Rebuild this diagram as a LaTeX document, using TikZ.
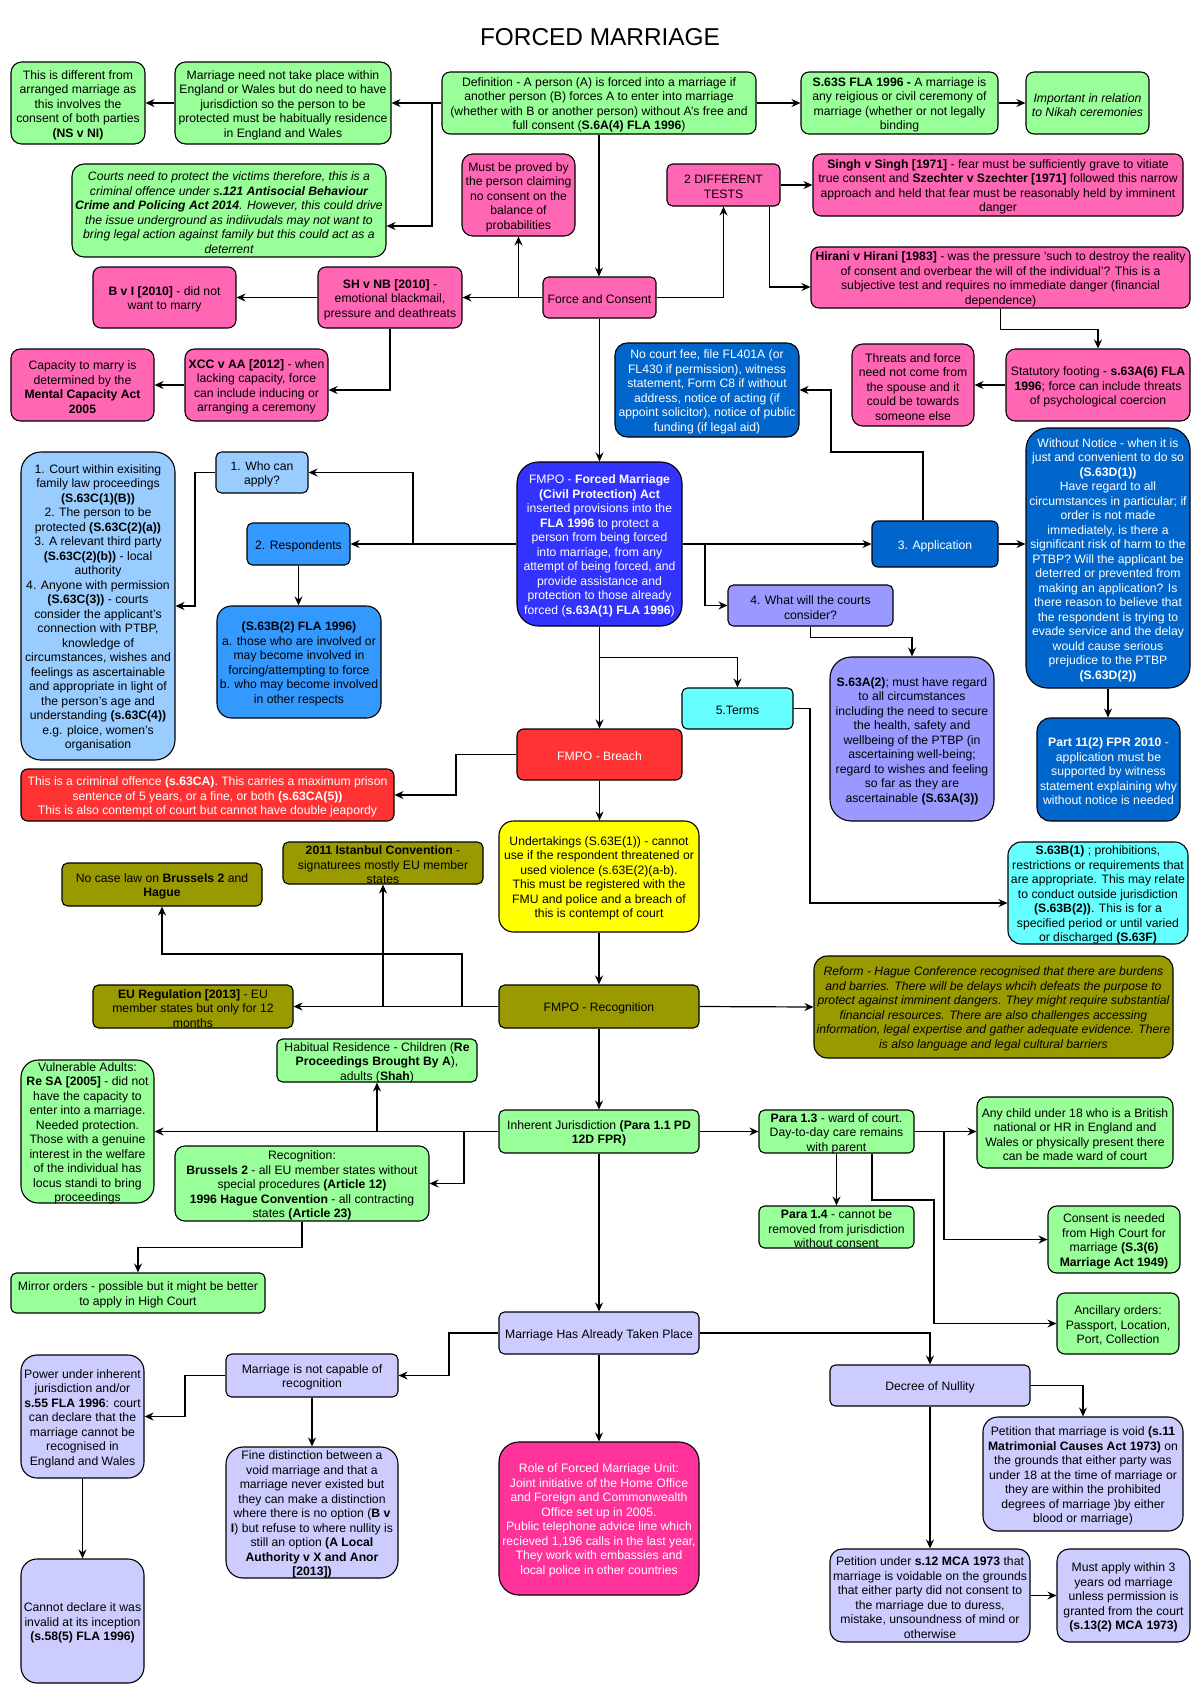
\documentclass[tikz,border=0pt]{standalone}
\usepackage{fontspec}
\setmainfont{Liberation Sans}
\usetikzlibrary{arrows.meta}
\definecolor{cgreen}{HTML}{99FF99}
\definecolor{cpink}{HTML}{FF66B3}
\definecolor{cblue}{HTML}{0066CC}
\definecolor{clblue}{HTML}{99CCFF}
\definecolor{cmblue}{HTML}{3399FF}
\definecolor{croyal}{HTML}{3333FF}
\definecolor{cviolet}{HTML}{9999FF}
\definecolor{ccyan}{HTML}{66FFFF}
\definecolor{cred}{HTML}{FF3333}
\definecolor{cyellow}{HTML}{FFFF00}
\definecolor{colive}{HTML}{999900}
\definecolor{clav}{HTML}{CCCCFF}
\definecolor{cmag}{HTML}{FF3399}
\newcommand\mkbox[7]{%
  \pgfmathsetmacro\mkw{#4-#2}%
  \pgfmathsetmacro\mkh{#5-#3}%
  \pgfmathsetmacro\mkr{0.13*min(\mkw,\mkh)}%
  \node[box,#6,minimum width=\mkw pt,minimum height=\mkh pt,rounded corners=\mkr pt] (#1) at ({(#2+#4)/2},{(#3+#5)/2}) {};%
  \node[box,#6,draw=none,fill=none] (#1t) at ([yshift=-2pt]#1.center) {#7};%
}
\tikzset{
  box/.style={draw=black,line width=1.1pt,align=center,inner sep=1pt,font=\fontsize{12.2}{14.5}\selectfont},
  green/.style={fill=cgreen},
  pink/.style={fill=cpink},
  dblue/.style={fill=cblue,text=white},
  lblue/.style={fill=clblue},
  mblue/.style={fill=cmblue},
  royal/.style={fill=croyal,text=white},
  violet/.style={fill=cviolet},
  cyanbox/.style={fill=ccyan},
  redbox/.style={fill=cred,text=white},
  yellowbox/.style={fill=cyellow},
  olive/.style={fill=colive},
  lav/.style={fill=clav},
  magbox/.style={fill=cmag,text=white},
  ital/.style={font=\fontsize{12.2}{14.5}\selectfont\itshape},
  arr/.style={-{Stealth[length=9pt,width=8pt,inset=3pt]},line width=1.2pt},
}
\begin{document}
\begin{tikzpicture}[x=1pt,y=-1pt]
\useasboundingbox (0,0) rectangle (1200,1698);
\fill[white] (0,0) rectangle (1200,1698);
\node[font=\fontsize{24.4}{28}\selectfont] (title) at (600,37) {FORCED MARRIAGE};

\mkbox{diff}{11}{62}{145}{144}{green}{This is different from\\arranged marriage as\\this involves the\\consent of both parties\\\textbf{(NS v NI)}}
\mkbox{need}{175}{62}{391}{144}{green}{Marriage need not take place within\\England or Wales but do need to have\\jurisdiction so the person to be\\protected must be habitually residence\\in England and Wales}
\mkbox{def}{442}{72}{756}{134}{green}{Definition - A person (A) is forced into a marriage if\\another person (B) forces A to enter into marriage\\(whether with B or another person) without A's free and\\full consent (\textbf{S.6A(4) FLA 1996})}
\mkbox{s63s}{801}{72}{998}{134}{green}{\textbf{S.63S FLA 1996 -} A marriage is\\any reigious or civil ceremony of\\marriage (whether or not legally\\binding}
\mkbox{nikah}{1026}{72}{1149}{134}{green,ital}{Important in relation\\to Nikah ceremonies}
\mkbox{courts}{72}{164}{386}{257}{green,ital}{Courts need to protect the victims therefore, this is a\\criminal offence under s\textbf{.121 Antisocial Behaviour}\\\textbf{Crime and Policing Act 2014}. However, this could drive\\the issue underground as indiivudals may not want to\\bring legal action against family but this could act as a\\deterrent}
\mkbox{proved}{462}{154}{575}{236}{pink}{Must be proved by\\the person claiming\\no consent on the\\balance of\\probabilities}
\mkbox{tests}{667}{164}{780}{206}{pink}{2 DIFFERENT\\TESTS}
\mkbox{singh}{813}{154}{1183}{216}{pink}{\textbf{Singh v Singh [1971]} - fear must be sufficiently grave to vitiate\\true consent and \textbf{Szechter v Szechter [1971]} followed this narrow\\approach and held that fear must be reasonably held by imminent\\danger}
\mkbox{hirani}{811}{247}{1190}{308}{pink}{\textbf{Hirani v Hirani [1983]} - was the pressure 'such to destroy the reality\\of consent and overbear the will of the individual'? This is a\\subjective test and requires no immediate danger (financial\\dependence)}
\mkbox{bvi}{93}{267}{236}{328}{pink}{\textbf{B v I [2010]} - did not\\want to marry}
\mkbox{shnb}{318}{267}{462}{328}{pink}{\textbf{SH v NB [2010]} -\\emotional blackmail,\\pressure and deathreats}
\mkbox{force}{543}{277}{656}{318}{pink}{Force and Consent}
\mkbox{cap}{11}{349}{154}{421}{pink}{Capacity to marry is\\determined by the\\\textbf{Mental Capacity Act}\\\textbf{2005}}
\mkbox{xcc}{185}{349}{328}{421}{pink}{\textbf{XCC v AA [2012]} - when\\lacking capacity, force\\can include inducing or\\arranging a ceremony}
\mkbox{fee}{615}{343}{799}{437}{dblue}{No court fee, file FL401A (or\\FL430 if permission), witness\\statement, Form C8 if without\\address, notice of acting (if\\appoint solicitor), notice of public\\funding (if legal aid)}
\mkbox{threats}{852}{344}{974}{426}{pink}{Threats and force\\need not come from\\the spouse and it\\could be towards\\someone else}
\mkbox{stat}{1006}{349}{1190}{421}{pink}{Statutory footing - \textbf{s.63A(6) FLA}\\\textbf{1996}; force can include threats\\of psychological coercion}
\mkbox{who}{216}{452}{308}{493}{lblue}{1. Who can\\apply?}
\mkbox{applist}{21}{452}{175}{760}{lblue}{1. Court within exisiting\\family law proceedings\\\textbf{(S.63C(1)(B))}\\2. The person to be\\protected \textbf{(S.63C(2)(a))}\\3. A relevant third party\\\textbf{(S.63C(2)(b))} - local\\authority\\4. Anyone with permission\\\textbf{(S.63C(3))} - courts\\consider the applicant's\\connection with PTBP,\\knowledge of\\circumstances, wishes and\\feelings as ascertainable\\and appropriate in light of\\the person's age and\\understanding \textbf{(s.63C(4))}\\e.g. ploice, women's\\organisation}
\mkbox{resp}{247}{523}{350}{565}{mblue}{2. Respondents}
\mkbox{sbtwo}{217}{606}{381}{718}{mblue}{\textbf{(S.63B(2) FLA 1996)}\\a. those who are involved or\\may become involved in\\forcing/attempting to force\\b. who may become involved\\in other respects}
\mkbox{fmpo}{517}{462}{682}{626}{royal}{FMPO - \textbf{Forced Marriage}\\\textbf{(Civil Protection) Act}\\inserted provisions into the\\\textbf{FLA 1996} to protect a\\person from being forced\\into marriage, from any\\attempt of being forced, and\\provide assistance and\\protection to those already\\forced (\textbf{s.63A(1) FLA 1996})}
\mkbox{app}{872}{521}{998}{567}{dblue}{3. Application}
\mkbox{wn}{1026}{428}{1190}{688}{dblue}{Without Notice - when it is\\just and convenient to do so\\\textbf{(S.63D(1))}\\Have regard to all\\circumstances in particular; if\\order is not made\\immediately, is there a\\significant risk of harm to the\\PTBP? Will the applicant be\\deterred or prevented from\\making an application? Is\\there reason to believe that\\the respondent is trying to\\evade service and the delay\\would cause serious\\prejudice to the PTBP\\\textbf{(S.63D(2))}}
\mkbox{what}{728}{585}{893}{626}{violet}{4. What will the courts\\consider?}
\mkbox{satwo}{830}{657}{994}{821}{violet}{\textbf{S.63A(2)}; must have regard\\to all circumstances\\including the need to secure\\the health, safety and\\wellbeing of the PTBP (in\\ascertaining well-being;\\regard to wishes and feeling\\so far as they are\\ascertainable \textbf{(S.63A(3))}}
\mkbox{part}{1037}{718}{1180}{821}{dblue}{\textbf{Part 11(2) FPR 2010} -\\application must be\\supported by witness\\statement explaining why\\without notice is needed}
\mkbox{terms}{682}{688}{793}{729}{cyanbox}{5.Terms}
\mkbox{breach}{517}{729}{682}{780}{redbox}{FMPO - Breach}
\mkbox{crim}{21}{769}{394}{821}{redbox}{This is a criminal offence \textbf{(s.63CA)}. This carries a maximum prison\\sentence of 5 years, or a fine, or both \textbf{(s.63CA(5))}\\This is also contempt of court but cannot have double jeapordy}
\mkbox{undert}{499}{821}{699}{932}{yellowbox}{Undertakings (S.63E(1)) - cannot\\use if the respondent threatened or\\used violence (s.63E(2)(a-b).\\This must be registered with the\\FMU and police and a breach of\\this is contempt of court}
\mkbox{sbone}{1008}{842}{1188}{944}{cyanbox}{\textbf{S.63B(1)} ; prohibitions,\\restrictions or requirements that\\are appropriate. This may relate\\to conduct outside jurisdiction\\\textbf{(S.63B(2))}. This is for a\\specified period or until varied\\or discharged \textbf{(S.63F)}}
\mkbox{ist}{283}{842}{483}{884}{olive}{\textbf{2011 Istanbul Convention} -\\signaturees mostly EU member\\states}
\mkbox{nocase}{62}{863}{262}{906}{olive}{No case law on \textbf{Brussels 2} and\\\textbf{Hague}}
\mkbox{eureg}{93}{985}{293}{1028}{olive}{\textbf{EU Regulation [2013]} - EU\\member states but only for 12\\months}
\mkbox{recog}{499}{985}{699}{1028}{olive}{FMPO - Recognition}
\mkbox{reform}{814}{956}{1173}{1058}{olive,ital}{Reform - Hague Conference recognised that there are burdens\\and barries. There will be delays whcih defeats the purpose to\\protect against imminent dangers. They might require substantial\\financial resources. There are also challenges accessing\\information, legal expertise and gather adequate evidence. There\\is also language and legal cultural barriers}
\mkbox{habit}{277}{1039}{477}{1082}{green}{Habitual Residence - Children (\textbf{Re}\\\textbf{Proceedings Brought By A}),\\adults (\textbf{Shah})}
\mkbox{vuln}{21}{1060}{154}{1203}{green}{Vulnerable Adults:\\\textbf{Re SA [2005]} - did not\\have the capacity to\\enter into a marriage.\\Needed protection.\\Those with a genuine\\interest in the welfare\\of the individual has\\locus standi to bring\\proceedings}
\mkbox{inh}{499}{1110}{699}{1153}{green}{Inherent Jurisdiction \textbf{(Para 1.1 PD}\\\textbf{12D FPR)}}
\mkbox{brus}{175}{1146}{429}{1221}{green}{Recognition:\\\textbf{Brussels 2} - all EU member states without\\special procedures \textbf{(Article 12)}\\\textbf{1996 Hague Convention} - all contracting\\states \textbf{(Article 23)}}
\mkbox{pthree}{759}{1110}{914}{1153}{green}{\textbf{Para 1.3} - ward of court.\\Day-to-day care remains\\with parent}
\mkbox{child}{977}{1097}{1173}{1168}{green}{Any child under 18 who is a British\\national or HR in England and\\Wales or physically present there\\can be made ward of court}
\mkbox{pfour}{759}{1206}{914}{1248}{green}{\textbf{Para 1.4} - cannot be\\removed from jurisdiction\\without consent}
\mkbox{cons}{1048}{1206}{1180}{1273}{green}{Consent is needed\\from High Court for\\marriage \textbf{(S.3(6)}\\\textbf{Marriage Act 1949)}}
\mkbox{mirror}{11}{1273}{265}{1313}{green}{Mirror orders - possible but it might be better\\to apply in High Court}
\mkbox{ancil}{1057}{1293}{1179}{1354}{green}{Ancillary orders:\\Passport, Location,\\Port, Collection}
\mkbox{already}{499}{1312}{699}{1354}{lav}{Marriage Has Already Taken Place}
\mkbox{notcap}{226}{1354}{398}{1397}{lav}{Marriage is not capable of\\recognition}
\mkbox{power}{21}{1355}{144}{1478}{lav}{Power under inherent\\jurisdiction and/or\\\textbf{s.55 FLA 1996}: court\\can declare that the\\marriage cannot be\\recognised in\\England and Wales}
\mkbox{fine}{226}{1447}{398}{1578}{lav}{Fine distinction between a\\void marriage and that a\\marriage never existed but\\they can make a distinction\\where there is no option (\textbf{B v}\\\textbf{I}) but refuse to where nullity is\\still an option \textbf{(A Local}\\\textbf{Authority v X and Anor}\\\textbf{[2013])}}
\mkbox{decree}{830}{1365}{1030}{1406}{lav}{Decree of Nullity}
\mkbox{void}{983}{1417}{1183}{1531}{lav}{Petition that marriage is void \textbf{(s.11}\\\textbf{Matrimonial Causes Act 1973)} on\\the grounds that either party was\\under 18 at the time of marriage or\\they are within the prohibited\\degrees of marriage )by either\\blood or marriage)}
\mkbox{role}{499}{1442}{699}{1595}{magbox}{Role of Forced Marriage Unit:\\Joint initiative of the Home Office\\and Foreign and Commonwealth\\Office set up in 2005.\\Public telephone advice line which\\recieved 1,196 calls in the last year,\\They work with embassies and\\local police in other countries}
\mkbox{cannot}{21}{1559}{144}{1683}{lav}{Cannot declare it was\\invalid at its inception\\\textbf{(s.58(5) FLA 1996)}}
\mkbox{pettwelve}{830}{1549}{1030}{1642}{lav}{Petition under \textbf{s.12 MCA 1973} that\\marriage is voidable on the grounds\\that either party did not consent to\\the marriage due to duress,\\mistake, unsoundness of mind or\\otherwise}
\mkbox{within}{1057}{1549}{1190}{1642}{lav}{Must apply within 3\\years od marriage\\unless permission is\\granted from the court\\\textbf{(s.13(2) MCA 1973)}}

% connectors
\draw[arr] (def.west) -- (need.east);
\draw[arr] (need.west) -- (diff.east);
\draw[arr] (def.west) -- (432,103) |- ([yshift=-15.5pt]courts.east);
\draw[arr] (def.east) -- (s63s.west);
\draw[arr] (s63s.east) -- (nikah.west);
\draw[arr] (def.south) -- (def.south |- force.north);
\draw[arr] (force.west) -- (shnb.east);
\draw[arr] (force.west -| proved.south) -- (proved.south);
\draw[arr] (force.east) -| (tests.south);
\draw[arr] (tests.east) -- (singh.west);
\draw[arr] ([xshift=-11pt]tests.south east) |- ([yshift=-9.5pt]hirani.west);
\draw[arr] (shnb.west) -- (bvi.east);
\draw[arr] (shnb.south) |- ([yshift=-5pt]xcc.east);
\draw[arr] (xcc.west) -- (cap.east);
\draw[arr] (hirani.south) -- ++(0,21) -| (stat.north);
\draw[arr] (stat.west) -- (threats.east);
\draw[arr] ([xshift=-12pt]app.north) |- (831,452) |- (fee.east);
\draw[arr] (force.south) -- (force.south |- fmpo.north);
\draw[arr] (fmpo.west) -- (resp.east);
\draw[arr] (413,544) |- (who.east);
\draw[arr] (who.west) -- (195,472.5) |- (applist.east);
\draw[arr] (resp.south) -- (resp.south |- sbtwo.north);
\draw[arr] (fmpo.east) -- (app.west);
\draw[arr] (705,544) |- (what.west);
\draw[arr] (app.east) -- ([yshift=14pt]wn.west);
\draw[arr] (wn.south) -- (wn.south |- part.north);
\draw[arr] (what.south) -- ++(0,11) -| (satwo.north);
\draw[arr] (fmpo.south) -- ++(0,31) -| (terms.north);
\draw[arr] (fmpo.south) -- (fmpo.south |- breach.north);
\draw[arr] (breach.west) -- (456,754.5) |- (crim.east);
\draw[arr] (terms.east) -- (810,708.5) |- ([yshift=-10pt]sbone.west);
\draw[arr] (breach.south) -- (breach.south |- undert.north);
\draw[arr] (undert.south) -- (undert.south |- recog.north);
\draw[arr] (recog.west) -- (eureg.east);
\draw[arr] (ist.south |- recog.west) -- (ist.south);
\draw[arr] (462,1006.5) -- (462,954) -| (nocase.south);
\draw[arr] (recog.east) -- (reform.west);
\draw[arr] (recog.south) -- (recog.south |- inh.north);
\draw[arr] (inh.west) -- (vuln.east);
\draw[arr] (habit.south |- inh.west) -- (habit.south);
\draw[arr] (464,1131.5) |- (brus.east);
\draw[arr] (brus.south) -- ++(0,26) -| (mirror.north);
\draw[arr] (inh.east) -- (pthree.west);
\draw[arr] (pthree.east) -- (pthree.east -| child.west);
\draw[arr] (944,1131.5) |- (cons.west);
\draw[arr] (pthree.south) -- (pthree.south |- pfour.north);
\draw[arr] ([xshift=35.5pt]pthree.south) |- (934,1200) |- (ancil.west);
\draw[arr] (inh.south) -- (inh.south |- already.north);
\draw[arr] (already.west) -- (449,1333) |- (notcap.east);
\draw[arr] (already.east) -| (decree.north);
\draw[arr] (already.south) -- (already.south |- role.north);
\draw[arr] (notcap.west) -- (185,1375.5) |- (power.east);
\draw[arr] (notcap.south) -- (fine.north);
\draw[arr] (power.south) -- (cannot.north);
\draw[arr] (decree.east) -| (void.north);
\draw[arr] (decree.south) -- (pettwelve.north);
\draw[arr] (pettwelve.east) -- (within.west);
\end{tikzpicture}
\end{document}
